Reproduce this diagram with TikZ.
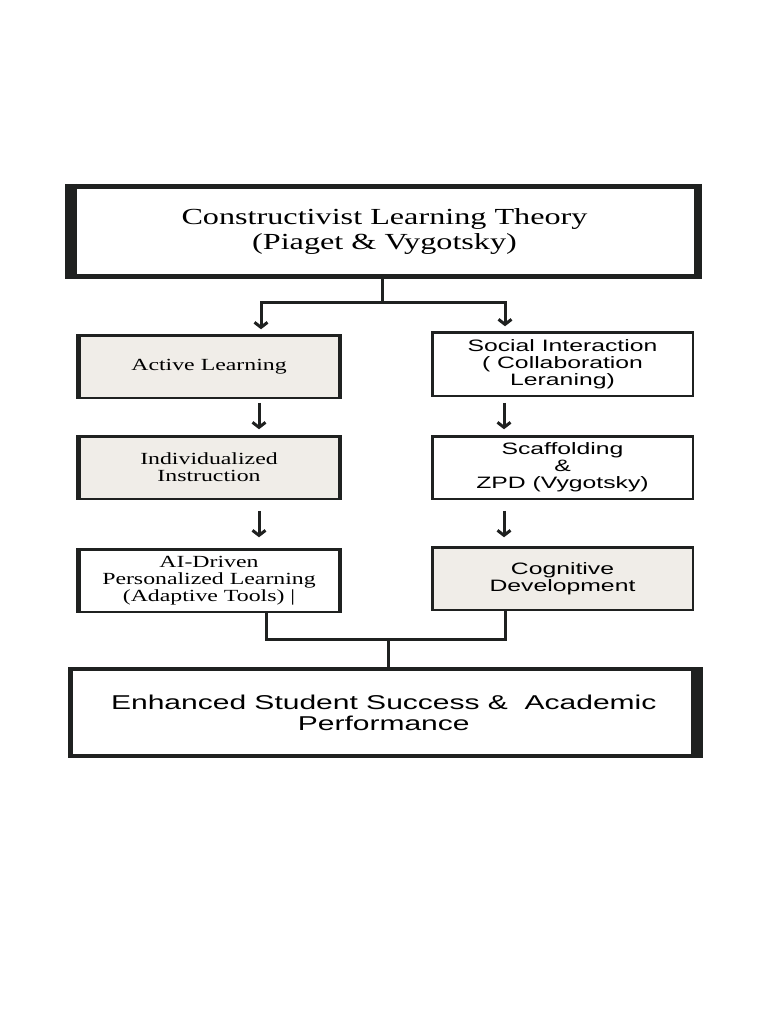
\documentclass[tikz,border=0pt]{standalone}
\usepackage{fontspec}
\usepackage{xcolor}
\usetikzlibrary{arrows.meta,calc}
\newfontfamily\oldserif{Liberation Serif}[FakeStretch=1.4]
\newfontfamily\widesans{Liberation Sans}[FakeStretch=1.5]
\definecolor{ink}{HTML}{1F2120}
\definecolor{paper}{HTML}{F0EDE8}

\begin{document}
\begin{tikzpicture}[x=1pt,y=-1pt,
  box/.style={draw=ink, line width=2.5pt, inner sep=0pt, outer sep=0pt, align=center},
  bars/.style n args={3}{append after command={
    (\tikzlastnode.north west) edge[draw=ink, line width=#1, shorten <=#3, shorten >=#3] (\tikzlastnode.south west)
    (\tikzlastnode.north east) edge[draw=ink, line width=#2, shorten <=#3, shorten >=#3] (\tikzlastnode.south east)}},
  link/.style={draw=ink, line width=3pt},
  flow/.style={link, -{Straight Barb[length=5pt,width=13pt]}},
  serifsmall/.style={font=\oldserif\fontsize{17}{17}\selectfont},
  sanssmall/.style={font=\widesans\fontsize{16.5}{17}\selectfont}]
\fill[white] (0,0) rectangle (768,1024);
\useasboundingbox (0,0) rectangle (768,1024);

\node[box, line width=5pt, bars={12pt}{8pt}{-2.5pt}, minimum width=627pt, minimum height=90pt, font=\oldserif\fontsize{23}{25}\selectfont] (theory) at (384.5,231.5) {Constructivist Learning Theory\\(Piaget \& Vygotsky)};

\node[box, fill=paper, bars={4.5pt}{4.5pt}{-1.25pt}, minimum width=261.5pt, minimum height=62.5pt, serifsmall] (active) at (209,366.5) {Active Learning};
\node[box, minimum width=260.5pt, minimum height=63.5pt, sanssmall] (social) at (562.5,364) {Social Interaction\\( Collaboration\\Leraning)};

\node[box, fill=paper, bars={4.5pt}{4.5pt}{-1.25pt}, minimum width=261.5pt, minimum height=62.5pt, serifsmall] (indiv) at (209,467.5) {Individualized\\Instruction};
\node[box, minimum width=260.5pt, minimum height=62.5pt, sanssmall] (scaffold) at (562.5,467.5) {Scaffolding\\\&\\ZPD (Vygotsky)};

\node[box, bars={4.5pt}{4.5pt}{-1.25pt}, minimum width=261.5pt, minimum height=62.5pt, serifsmall] (aitools) at (209,580.5) {AI-Driven\\Personalized Learning\\(Adaptive Tools) |};
\node[box, fill=paper, minimum width=260.5pt, minimum height=62.5pt, sanssmall] (cognitive) at (562.5,578.5) {Cognitive\\Development};

\node[box, line width=4pt, bars={5pt}{12pt}{-2pt}, minimum width=626.5pt, minimum height=87pt, font=\widesans\fontsize{20}{21}\selectfont] (success) at (383.75,712.5) {Enhanced Student Success \& \ Academic\\Performance};

\coordinate (fork) at (382,302);
\coordinate (forkL) at (261,302);
\coordinate (forkR) at (505,302);
\coordinate (colL) at (259,0);
\coordinate (colR) at (504,0);
\coordinate (joinL) at (266,639);
\coordinate (joinR) at (505,639);
\coordinate (merge) at (388,639);

\draw[link] (theory.south -| fork) -- (fork);
\draw[flow, shorten >=6pt] (fork) -- (forkL) -- (forkL |- active.north);
\draw[flow, shorten >=6pt] (fork) -- (forkR) -- (forkR |- social.north);

\draw[flow, shorten <=5pt, shorten >=7pt] (active.south -| colL) -- (indiv.north -| colL);
\draw[flow, shorten <=12pt, shorten >=12pt] (indiv.south -| colL) -- (aitools.north -| colL);
\draw[flow, shorten <=7pt, shorten >=7pt] (social.south -| colR) -- (scaffold.north -| colR);
\draw[flow, shorten <=12pt, shorten >=10pt] (scaffold.south -| colR) -- (cognitive.north -| colR);

\draw[link] (aitools.south -| joinL) -- (joinL) -- (joinR) -- (cognitive.south -| joinR);
\draw[link] (merge) -- (merge |- success.north);
\end{tikzpicture}
\end{document}
